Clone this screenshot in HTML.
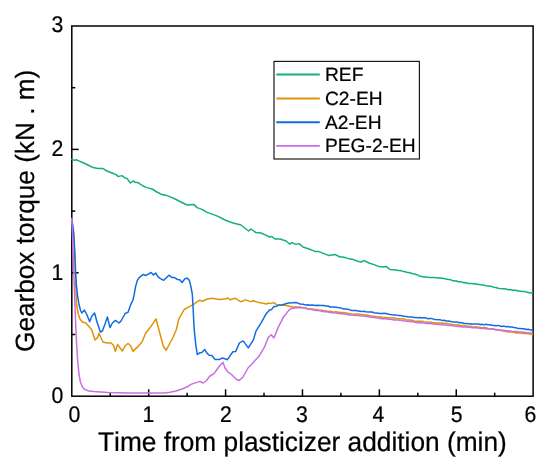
<!DOCTYPE html>
<html><head><meta charset="utf-8"><title>Gearbox torque</title>
<style>
html,body{margin:0;padding:0;background:#fff;}
body{width:550px;height:465px;overflow:hidden;}
svg{display:block;font-family:"Liberation Sans",sans-serif;fill:#000;}
text{stroke:#000;stroke-width:0.22px;text-rendering:geometricPrecision;font-kerning:none;}
.tk text{font-size:22.6px;}
.lg text{font-size:19.2px;}
.ax{font-size:26.4px;}
.cv polyline{fill:none;stroke-width:1.5;stroke-linejoin:round;stroke-linecap:round;}
</style></head><body>
<svg width="550" height="465" viewBox="0 0 550 465">
<rect width="550" height="465" fill="#fff"/>
<rect x="71.8" y="26.0" width="461.3" height="370.2" fill="none" stroke="#000" stroke-width="1.5"/>
<g stroke="#000" stroke-width="1.5"><line x1="110.25" y1="396.2" x2="110.25" y2="392.70"/><line x1="148.69" y1="396.2" x2="148.69" y2="389.30"/><line x1="187.14" y1="396.2" x2="187.14" y2="392.70"/><line x1="225.58" y1="396.2" x2="225.58" y2="389.30"/><line x1="264.03" y1="396.2" x2="264.03" y2="392.70"/><line x1="302.47" y1="396.2" x2="302.47" y2="389.30"/><line x1="340.92" y1="396.2" x2="340.92" y2="392.70"/><line x1="379.37" y1="396.2" x2="379.37" y2="389.30"/><line x1="417.81" y1="396.2" x2="417.81" y2="392.70"/><line x1="456.26" y1="396.2" x2="456.26" y2="389.30"/><line x1="494.70" y1="396.2" x2="494.70" y2="392.70"/><line x1="71.8" y1="334.50" x2="75.30" y2="334.50"/><line x1="71.8" y1="272.80" x2="78.70" y2="272.80"/><line x1="71.8" y1="211.10" x2="75.30" y2="211.10"/><line x1="71.8" y1="149.40" x2="78.70" y2="149.40"/><line x1="71.8" y1="87.70" x2="75.30" y2="87.70"/></g>
<g class="cv">
<polyline stroke="#14b170" points="71.8,159.2 74.7,160.4 76.2,159.8 79.0,160.9 82.0,162.2 88.0,165.0 93.0,167.6 98.0,168.6 103.0,168.6 107.0,171.0 112.0,173.0 116.0,174.6 118.4,176.6 122.0,175.6 125.0,178.0 127.0,178.4 130.4,183.0 133.0,181.0 136.0,182.6 138.0,182.6 143.0,186.0 147.0,187.6 152.0,189.0 157.0,192.0 162.0,194.6 167.0,195.6 172.0,197.6 175.0,199.0 181.0,202.0 187.0,205.0 194.0,204.6 197.0,207.6 202.0,209.4 207.0,212.4 213.0,214.4 218.0,216.4 225.0,220.0 233.0,223.0 241.0,225.0 246.0,229.0 248.6,231.0 251.0,229.0 256.0,232.6 261.0,233.0 267.0,235.6 269.4,237.0 271.4,236.4 275.0,239.0 280.0,239.0 286.0,241.0 289.6,244.0 292.0,242.6 296.0,244.4 299.0,243.6 303.0,247.0 309.0,249.0 315.0,251.4 319.0,251.6 324.0,253.6 329.0,255.6 335.0,254.4 340.0,257.0 343.0,257.0 348.0,258.4 353.0,259.4 357.0,261.0 361.0,262.0 364.0,260.6 369.0,263.0 374.0,264.6 379.0,266.6 383.0,267.0 386.0,266.4 390.0,269.4 396.0,270.0 398.0,270.5 400.0,270.6 402.0,270.9 404.0,271.6 406.0,272.0 408.0,272.6 410.0,272.8 412.0,273.6 414.0,273.9 416.0,274.5 418.0,275.1 420.0,276.3 422.0,276.6 424.0,277.1 426.0,277.1 428.0,277.2 430.0,277.6 432.0,277.6 434.0,277.6 436.0,277.7 438.0,278.0 440.0,278.0 442.0,278.2 444.0,278.6 446.0,279.0 448.0,279.4 450.0,279.5 452.0,280.4 454.0,280.9 456.0,280.8 458.0,281.7 460.0,281.8 462.0,282.1 464.0,282.7 466.0,282.6 468.0,283.5 470.0,283.6 472.0,283.6 474.0,284.0 476.0,283.8 478.0,284.5 480.0,284.5 482.0,285.1 484.0,285.3 486.0,285.8 488.0,286.0 490.0,286.2 492.0,286.6 494.0,287.3 496.0,287.5 498.0,288.3 500.0,288.6 502.0,288.8 504.0,288.7 506.0,289.0 508.0,289.7 510.0,289.6 512.0,289.9 514.0,290.3 516.0,290.3 518.0,291.0 520.0,291.0 522.1,291.6 524.2,291.5 526.2,292.1 528.3,292.4 530.4,292.9 532.5,293.0"/>
<polyline stroke="#df9308" points="71.8,218.5 73.7,234.0 74.8,257.0 75.3,272.0 75.9,288.0 76.6,304.5 78.3,314.0 80.0,319.0 82.4,322.0 86.0,323.0 88.4,326.0 91.6,329.5 95.0,340.0 97.6,337.6 99.0,333.3 101.0,338.0 103.0,342.0 107.0,343.0 111.0,343.0 113.3,345.0 115.4,351.4 117.6,344.4 119.8,347.5 122.4,351.0 125.0,346.0 128.0,343.5 130.6,345.5 133.0,351.4 137.0,347.4 142.0,342.0 145.5,333.5 150.0,327.8 156.0,318.8 159.5,332.0 163.3,346.0 166.0,350.4 169.5,344.0 173.0,337.5 176.2,330.0 179.1,318.3 181.3,314.6 184.2,309.5 187.9,307.3 193.7,304.4 196.6,302.2 199.6,300.3 202.5,301.2 205.0,300.0 206.0,299.4 210.0,298.4 214.0,298.6 219.0,299.4 225.0,299.0 228.0,298.0 230.0,299.7 235.1,298.2 241.0,301.8 245.4,299.9 250.5,301.6 253.1,300.7 259.2,302.6 266.5,304.0 268.7,303.0 270.9,303.6 273.9,302.6 277.5,305.5 282.6,305.1 288.5,305.9 292.9,307.0 298.7,307.0 304.6,308.0 307.3,308.7 310.0,309.1 312.0,308.9 314.0,309.3 316.0,309.4 318.0,310.1 320.0,310.3 322.0,310.3 324.0,310.8 326.0,310.9 328.0,311.4 330.0,311.3 332.0,311.7 334.0,312.3 336.0,311.7 338.0,312.3 340.0,312.3 342.0,312.7 344.0,312.6 346.0,313.1 348.0,313.2 350.0,313.8 352.0,314.1 354.0,314.3 356.0,314.1 358.0,314.1 360.0,314.3 362.0,314.7 364.0,314.7 366.0,314.9 368.0,315.3 370.0,316.0 372.0,316.1 374.0,316.6 376.0,316.4 378.0,317.1 380.0,316.8 382.0,317.3 384.0,317.6 386.0,317.6 388.0,317.8 390.0,317.7 392.0,317.9 394.0,317.7 396.0,318.6 398.0,318.8 400.0,318.7 402.0,318.7 404.0,318.9 406.0,319.7 408.0,320.1 410.0,320.1 412.0,320.2 414.0,320.9 416.0,321.2 418.0,321.3 420.0,321.3 422.0,321.2 424.0,321.8 426.0,321.9 428.0,322.2 430.0,322.3 432.0,322.3 434.0,323.0 436.0,322.8 438.0,322.9 440.0,323.1 442.0,323.1 444.0,323.5 446.0,323.3 448.0,323.7 450.0,324.1 452.0,324.5 454.0,324.7 456.0,325.1 458.0,324.8 460.0,325.3 462.0,325.5 464.0,325.9 466.0,325.6 468.0,326.4 470.0,326.3 472.0,326.8 474.0,326.9 476.0,326.7 478.0,327.0 480.0,327.2 482.0,327.8 484.0,327.5 486.0,327.8 488.0,328.5 490.0,328.7 492.0,328.8 494.0,329.3 496.0,330.0 498.0,329.8 500.0,330.4 502.0,330.6 504.0,331.1 506.0,331.4 508.0,332.0 510.0,332.0 512.0,332.0 514.0,332.2 516.0,333.0 518.0,332.7 520.0,333.0 522.1,333.3 524.2,333.5 526.2,333.5 528.3,333.8 530.4,333.9 532.5,334.4"/>
<polyline stroke="#126be0" points="71.8,218.5 73.8,234.0 75.0,257.0 75.6,272.0 76.5,286.0 77.6,296.0 79.0,304.5 80.6,310.5 81.8,313.0 84.4,310.0 87.0,315.0 89.6,321.6 92.0,316.0 94.6,313.0 97.0,322.0 100.4,332.0 102.4,331.0 105.0,324.0 107.4,317.0 110.0,327.6 112.4,323.0 115.4,320.4 119.0,323.0 121.0,321.0 124.4,315.0 125.0,313.5 127.9,312.4 130.8,304.4 133.0,300.0 134.1,294.9 135.5,286.9 137.4,280.3 138.9,277.8 143.3,274.4 145.5,275.5 148.4,274.1 151.0,272.5 153.5,274.9 155.7,273.0 157.9,276.6 160.1,278.4 163.7,280.3 168.9,275.2 171.8,277.4 174.0,277.4 177.6,279.5 179.8,279.8 182.0,282.5 184.9,278.8 187.1,278.1 189.3,280.3 190.8,286.1 192.3,294.2 193.0,305.9 193.2,310.0 193.9,324.6 194.6,333.4 195.8,345.1 197.3,354.6 199.7,352.8 201.9,352.4 204.6,349.5 207.0,353.1 209.2,355.3 211.9,355.6 215.1,359.4 219.5,359.4 222.7,358.0 227.5,359.7 230.0,355.9 232.9,351.8 235.6,351.6 239.5,342.8 243.2,340.9 248.3,347.9 253.4,339.9 256.0,331.1 261.4,322.3 265.8,314.3 269.5,309.9 271.7,309.4 273.9,306.5 276.1,306.5 278.2,305.1 282.6,304.8 288.5,303.0 296.5,302.6 300.2,304.0 303.1,304.3 306.0,305.1 308.0,304.8 310.0,305.3 312.0,305.1 314.0,305.2 316.0,305.6 318.0,305.3 320.0,305.6 322.0,305.4 324.0,305.6 326.0,305.9 328.0,306.0 330.0,307.0 332.0,307.0 334.0,306.9 336.0,307.2 338.0,307.6 340.0,307.8 342.0,308.4 344.0,308.9 346.0,309.0 348.0,309.2 350.0,309.9 352.0,310.4 354.0,310.5 356.0,310.6 358.0,310.9 360.0,311.2 362.0,311.6 364.0,311.3 366.0,311.8 368.0,312.1 370.0,312.1 372.0,312.0 374.0,312.8 376.0,313.0 378.0,313.2 380.0,313.6 382.0,313.4 384.0,313.3 386.0,313.6 388.0,314.0 390.0,314.4 392.0,314.7 394.0,314.9 396.0,314.9 398.0,315.6 400.0,315.6 402.0,315.7 404.0,316.3 406.0,316.5 408.0,316.8 410.0,317.0 412.0,317.1 414.0,317.5 416.0,317.4 418.0,317.8 420.0,317.6 422.0,317.9 424.0,317.6 426.0,317.9 428.0,318.7 430.0,318.6 432.0,318.6 434.0,319.4 436.0,319.6 438.0,319.7 440.0,319.8 442.0,320.4 444.0,320.2 446.0,320.9 448.0,321.0 450.0,321.3 452.0,321.9 454.0,322.0 456.0,322.0 458.0,322.2 460.0,322.7 462.0,322.8 464.0,323.5 466.0,323.5 468.0,323.7 470.0,323.8 472.0,324.3 474.0,324.1 476.0,323.9 478.0,324.0 480.0,324.5 482.0,324.3 484.0,324.9 486.0,324.3 488.0,324.8 490.0,324.7 492.0,325.3 494.0,325.4 496.0,325.7 498.0,325.4 500.0,326.0 502.0,326.6 504.0,326.1 506.0,326.8 508.0,326.6 510.0,327.0 512.0,327.1 514.0,327.6 516.0,327.8 518.0,328.6 520.0,328.6 522.1,328.7 524.2,328.8 526.2,329.5 528.3,329.2 530.4,330.0 532.5,330.0"/>
<polyline stroke="#c96ee5" points="71.8,218.5 73.4,260.0 74.8,300.0 75.5,320.0 76.4,340.0 77.6,360.0 79.0,374.0 80.4,382.0 82.4,387.0 85.0,389.6 89.0,391.0 94.0,391.6 108.0,392.6 128.0,393.0 148.0,393.0 164.0,393.0 170.0,392.2 176.0,391.0 182.0,389.0 187.0,387.0 191.0,384.4 196.0,382.6 200.0,381.4 203.0,383.0 206.0,381.0 210.0,376.0 214.0,373.6 218.0,368.0 220.4,365.0 223.0,362.4 225.0,368.0 228.0,372.0 232.0,375.0 236.0,379.0 239.0,380.6 243.0,377.0 248.0,368.0 251.9,364.0 259.2,355.9 264.4,347.2 268.3,337.4 271.2,334.7 273.9,338.0 278.2,327.4 283.4,317.2 288.5,310.6 291.4,308.4 298.7,307.4 303.1,307.7 305.4,308.0 307.7,308.8 310.0,309.3 312.0,309.5 314.0,310.0 316.0,310.4 318.0,310.6 320.0,310.8 322.0,311.3 324.0,311.8 326.0,311.6 328.0,312.0 330.0,312.6 332.0,312.7 334.0,312.8 336.0,312.9 338.0,313.2 340.0,313.7 342.0,313.7 344.0,314.1 346.0,314.1 348.0,314.8 350.0,314.9 352.0,315.1 354.0,315.2 356.0,315.6 358.0,315.4 360.0,315.8 362.0,315.9 364.0,316.0 366.0,316.5 368.0,316.6 370.0,317.2 372.0,317.3 374.0,317.5 376.0,317.8 378.0,318.0 380.0,318.5 382.0,318.7 384.0,318.7 386.0,318.8 388.0,319.2 390.0,319.3 392.0,319.5 394.0,319.9 396.0,320.1 398.0,320.0 400.0,320.3 402.0,320.6 404.0,321.0 406.0,320.9 408.0,321.5 410.0,321.4 412.0,321.8 414.0,322.1 416.0,322.4 418.0,322.7 420.0,322.7 422.0,323.1 424.0,323.1 426.0,323.4 428.0,323.2 430.0,323.6 432.0,323.8 434.0,324.1 436.0,324.2 438.0,324.5 440.0,324.5 442.0,324.7 444.0,324.9 446.0,325.1 448.0,325.5 450.0,325.5 452.0,325.6 454.0,326.0 456.0,326.3 458.0,326.4 460.0,326.5 462.0,326.9 464.0,326.9 466.0,327.1 468.0,327.2 470.0,327.2 472.0,327.7 474.0,327.7 476.0,327.8 478.0,327.9 480.0,328.2 482.0,328.5 484.0,328.6 486.0,328.8 488.0,329.1 490.0,328.9 492.0,329.3 494.0,329.3 496.0,329.5 498.0,329.8 500.0,330.0 502.0,330.4 504.0,330.2 506.0,330.7 508.0,330.8 510.0,331.0 512.0,331.3 514.0,331.5 516.0,331.4 518.0,331.8 520.0,332.0 522.1,332.0 524.2,332.2 526.2,332.7 528.3,332.8 530.4,333.1 532.5,333.0"/>
</g>
<g class="tk"><text transform="translate(74.4,422.3) scale(0.94,1)" text-anchor="middle">0</text><text transform="translate(148.4,422.3) scale(0.94,1)" text-anchor="middle">1</text><text transform="translate(226.0,422.3) scale(0.94,1)" text-anchor="middle">2</text><text transform="translate(301.9,422.3) scale(0.94,1)" text-anchor="middle">3</text><text transform="translate(378.5,422.3) scale(0.94,1)" text-anchor="middle">4</text><text transform="translate(456.7,422.3) scale(0.94,1)" text-anchor="middle">5</text><text transform="translate(530.5,422.3) scale(0.94,1)" text-anchor="middle">6</text><text transform="translate(63.4,403.0) scale(0.94,1)" text-anchor="end">0</text><text transform="translate(63.4,279.7) scale(0.94,1)" text-anchor="end">1</text><text transform="translate(63.4,155.9) scale(0.94,1)" text-anchor="end">2</text><text transform="translate(63.4,31.6) scale(0.94,1)" text-anchor="end">3</text></g>
<rect x="274" y="61.4" width="145.4" height="97.6" fill="#fff" stroke="#1a1a1a" stroke-width="1.2"/>
<g class="lg"><line x1="276.3" y1="74.5" x2="319.8" y2="74.5" stroke="#14b170" stroke-width="1.9"/><line x1="276.3" y1="98.45" x2="319.8" y2="98.45" stroke="#df9308" stroke-width="1.9"/><line x1="276.3" y1="122.25" x2="319.8" y2="122.25" stroke="#126be0" stroke-width="1.9"/><line x1="276.3" y1="145.9" x2="319.8" y2="145.9" stroke="#c96ee5" stroke-width="1.9"/><text x="325" y="81.0">REF</text><text x="325" y="105.0">C2-EH</text><text x="325" y="128.6">A2-EH</text><text x="325" y="152.2">PEG-2-EH</text></g>
<text class="ax" style="font-size:26.27px" transform="translate(302.4,451.15) scale(1,1.03)" text-anchor="middle">Time from plasticizer addition (min)</text>
<text class="ax" style="font-size:26.18px" transform="translate(34.3,210.9) rotate(-90) scale(1,1.01)" text-anchor="middle">Gearbox torque (kN . m)</text>
</svg>
</body></html>
